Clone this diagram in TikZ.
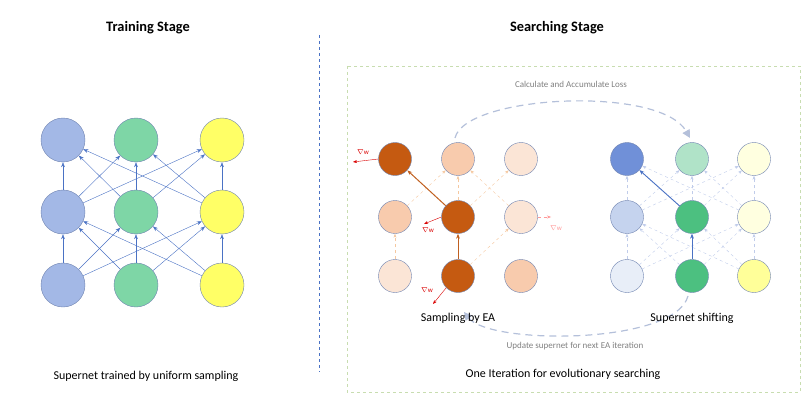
\documentclass[tikz,border=0pt]{standalone}
\usepackage{fontspec}
\setmainfont{Carlito}
\usetikzlibrary{arrows.meta,calc}
\definecolor{tb}{HTML}{A3B8E6}\definecolor{tg}{HTML}{7ED6A6}\definecolor{ty}{HTML}{FFFF66}
\definecolor{ln}{HTML}{4A72C4}\definecolor{bd}{HTML}{6F83B0}
\definecolor{od}{HTML}{C55A11}\definecolor{om}{HTML}{F8CBAD}\definecolor{ol}{HTML}{FBE5D6}
\definecolor{oa}{HTML}{C06020}\definecolor{ox}{HTML}{F5C8A0}
\definecolor{b1}{HTML}{7090D8}\definecolor{g1}{HTML}{B0E3C8}\definecolor{y1}{HTML}{FFFFE0}
\definecolor{b2}{HTML}{C5D3EE}\definecolor{g2}{HTML}{4CC080}\definecolor{b3}{HTML}{E8EEF8}\definecolor{y3}{HTML}{FFFF99}
\definecolor{lb}{HTML}{C0CCEA}\definecolor{cv}{HTML}{B4C0DA}\definecolor{gb}{HTML}{C8DDB0}
\tikzset{
 big/.style={circle,draw=bd,minimum size=44pt,inner sep=0pt},
 sm/.style={circle,draw=bd,minimum size=33pt,inner sep=0pt},
 tedge/.style={ln,-{Stealth[length=5pt]}},
 sol/.style={oa,line width=1pt,-{Stealth[length=5pt]}},
 dsh/.style={ox,dashed,-{Stealth[length=4pt]}},
 bsol/.style={ln,line width=0.9pt,-{Stealth[length=5pt]}},
 bdsh/.style={lb,dashed,-{Stealth[length=4pt]}},
 grad/.style={red!85!black,-{Stealth[length=4pt]}},
 gl/.style={red!85!black,font=\scriptsize},
 curve/.style={cv,line width=1.2pt,dash pattern=on 7pt off 5pt,-{Triangle[length=8pt,width=8pt]}},
 captxt/.style={font=\large},
 smalltxt/.style={text=gray,font=\small}
}
\begin{document}
\begin{tikzpicture}[x=1pt,y=-1pt]
\useasboundingbox (0,0) rectangle (811,401);
\node[font=\Large\bfseries] (t1) at (148,28) {Training Stage};
\node[font=\Large\bfseries] (t2) at (557,28) {Searching Stage};
\draw[ln,dashed] (319,35) -- (319,372);
\draw[gb,dashed,line width=0.8pt] (347,66) rectangle (800,392);
% training
\foreach \c/\x in {tb/63,tg/136,ty/222}{
 \foreach \r/\y in {1/140,2/212,3/285}{
  \node[big,fill=\c] (T\x-\r) at (\x,\y) {};}}
\foreach \a in {63,136,222}{\foreach \b in {63,136,222}{
 \draw[tedge] (T\a-3) -- (T\b-2);
 \draw[tedge] (T\a-2) -- (T\b-1);}}
\node[captxt] (c1) at (146,376) {Supernet trained by uniform sampling};
% left search grid
\node[sm,fill=od] (A1) at (395,159) {};\node[sm,fill=om] (B1) at (458,159) {};\node[sm,fill=ol] (C1) at (521,159) {};
\node[sm,fill=om] (A2) at (395,217) {};\node[sm,fill=od] (B2) at (458,217) {};\node[sm,fill=ol] (C2) at (521,217) {};
\node[sm,fill=ol] (A3) at (395,276) {};\node[sm,fill=od] (B3) at (458,276) {};\node[sm,fill=om] (C3) at (521,276) {};
\draw[dsh] (A3) -- (A2);\draw[dsh] (B3) -- (C2);\draw[dsh] (A2) -- (B1);
\draw[dsh] (B2) -- (B1);\draw[dsh] (B2) -- (C1);\draw[dsh] (C2) -- (B1);
\draw[sol] (B3) -- (B2);\draw[sol] (B2) -- (A1);
\coordinate (g1) at (353,162);\draw[grad] (A1.west) -- (g1);\node[gl] (l1) at (363,152) {$\nabla$w};
\coordinate (g2) at (424,224);\draw[grad] (B2.west) -- (g2);\node[gl] (l2) at (428,230) {$\nabla$w};
\coordinate (g3) at (433,304);\draw[grad] (B3.south west) -- (g3);\node[gl] (l3) at (427,290) {$\nabla$w};
\coordinate (g4) at (551,217);\draw[red!40,dashed,-{Stealth[length=4pt]}] (C2.east) -- (g4);\node[red!40,font=\scriptsize] (l4) at (556,228) {$\nabla$w};
% right grid
\node[sm,fill=b1] (D1) at (627,159) {};\node[sm,fill=g1] (E1) at (692,159) {};\node[sm,fill=y1] (F1) at (754,159) {};
\node[sm,fill=b2] (D2) at (627,217) {};\node[sm,fill=g2] (E2) at (692,217) {};\node[sm,fill=y1] (F2) at (754,217) {};
\node[sm,fill=b3] (D3) at (627,276) {};\node[sm,fill=g2] (E3) at (692,276) {};\node[sm,fill=y3] (F3) at (754,276) {};
\foreach \a in {D,E,F}{\foreach \b in {D,E,F}{
 \draw[bdsh] (\a3) -- (\b2);\draw[bdsh] (\a2) -- (\b1);}}
\draw[bsol] (E3) -- (E2);\draw[bsol] (E2) -- (D1);
% curves
\coordinate (s1) at (455,138);\coordinate (e1) at (690,138);
\draw[curve] (s1) .. controls (465,95) and (660,85) .. (e1);
\node[smalltxt] (cl) at (571,84) {Calculate and Accumulate Loss};
\coordinate (s2) at (688,296);\coordinate (e2) at (464,312);
\draw[curve] (s2) .. controls (675,345) and (490,345) .. (e2);
\node[smalltxt] (ul) at (575,346) {Update supernet for next EA iteration};
\node[captxt] (c2) at (458,318) {Sampling by EA};
\node[captxt] (c3) at (692,318) {Supernet shifting};
\node[captxt] (c4) at (563,374) {One Iteration for evolutionary searching};
\end{tikzpicture}
\end{document}
